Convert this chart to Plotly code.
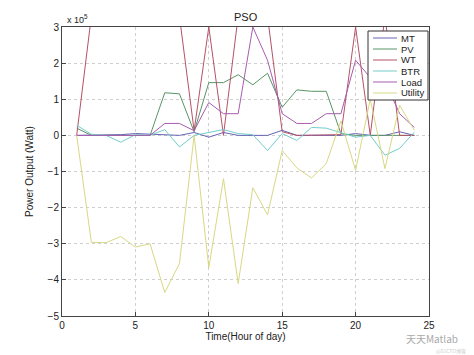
import plotly.graph_objects as go

hours = list(range(1, 25))
# values in units of 1e5 W
MT = [0, 0, 0, 0.02, 0.05, 0.03, 0, 0, 0.08, -0.05, 0.08, 0, 0, 0, 0.14, 0, 0, 0, 0, 0.05, 0, 0, 0.1, 0]
PV = [0.2, 0, 0, 0, 0, 0, 1.18, 1.15, 0.1, 1.46, 1.46, 1.68, 1.4, 1.72, 0.78, 1.26, 1.22, 1.22, 0.05, 0, 0, 0, 0, 0]
WT = [0, 3.3, 4.5, 4.5, 4.5, 4.5, 4.5, 3.3, 0.13, 3.0, 0, 3.3, 4.5, 3.3, 0.1, 0, 0, 0, 0.02, 3.0, 0, 3.3, 0, 0]
BTR = [0.28, 0.03, 0, -0.19, 0.02, 0, 0.16, -0.32, 0, 0.09, 0.16, 0.05, 0.02, -0.42, 0.05, -0.14, 0.22, 0.2, 0.08, -0.05, 0, -0.55, -0.36, 0.09]
Load = [0, 0, 0, 0, 0, 0, 0.33, 0.33, 0.13, 0.91, 0.6, 0.6, 3.0, 2.08, 0.6, 0.33, 0.33, 0.6, 0.6, 2.08, 1.6, 1.5, 0.6, 0.22]
Utility = [0, -2.96, -2.97, -2.8, -3.09, -3.0, -4.35, -3.55, 0, -3.66, -1.2, -4.1, -1.45, -2.2, -0.42, -0.9, -1.18, -0.78, 0.4, -0.97, 1.0, -0.92, 0.83, 0.14]

names = ["MT", "PV", "WT", "BTR", "Load", "Utility"]
values = [MT, PV, WT, BTR, Load, Utility]
colors = ["#6464b4", "#5a9468", "#b45268", "#74cccc", "#a85cb0", "#d8d884"]

xticks = [0, 5, 10, 15, 20, 25]
yticks = [-5, -4, -3, -2, -1, 0, 1, 2, 3]

fig = go.Figure()
for name, vals, col in zip(names, values, colors):
    fig.add_trace(go.Scatter(x=hours, y=vals, mode="lines", name=name,
                             line=dict(color=col, width=1), showlegend=False))

font = "Liberation Sans, Arial, sans-serif"
axis_common = dict(showline=True, linecolor="#444", linewidth=1, mirror=True,
                   ticks="inside", ticklen=4, tickcolor="#444",
                   showgrid=True, gridcolor="#cfcfcf", griddash="dot", gridwidth=1,
                   zeroline=False, automargin=False,
                   tickfont=dict(size=10, color="#222", family=font))
# page has an 8px body margin; compensate
fig.update_layout(
    width=466, height=347,
    paper_bgcolor="white", plot_bgcolor="white",
    margin=dict(l=54, r=45, t=19, b=39),
    xaxis=dict(range=[0, 25], tickvals=xticks, title=dict(text="Time(Hour of day)", standoff=0,
               font=dict(size=10, color="#222", family=font)), **axis_common),
    yaxis=dict(range=[-5, 3], tickvals=yticks, title=dict(text="Power Output (Watt)", standoff=12,
               font=dict(size=10, color="#222", family=font)), **axis_common),
    showlegend=False,
)
PH = 289.0
fig.add_annotation(text="PSO", xref="paper", yref="paper", x=0.5, y=1 + 10 / PH,
                   xanchor="center", yanchor="middle", showarrow=False,
                   font=dict(size=11, color="#222", family=font))
fig.add_annotation(text="x 10<sup>5</sup>", xref="paper", yref="paper", x=0.008, y=1.0,
                   xanchor="left", yanchor="bottom", showarrow=False,
                   font=dict(size=9, color="#222", family=font))

# compact legend (MATLAB style)
lx0, lx1 = (368 - 62) / 367, (428 - 62) / 367
ly0, ly1 = 1 - (100 - 27) / PH, 1 - (31 - 27) / PH
fig.add_shape(type="rect", xref="paper", yref="paper", x0=lx0, x1=lx1, y0=ly0, y1=ly1,
              line=dict(color="#333", width=1), fillcolor="white", layer="above")
for i, (name, col) in enumerate(zip(names, colors)):
    yy = 1 - (38 + 11 * i - 27) / PH
    fig.add_shape(type="line", xref="paper", yref="paper",
                  x0=(373 - 62) / 367, x1=(397 - 62) / 367, y0=yy, y1=yy,
                  line=dict(color=col, width=1), layer="above")
    fig.add_annotation(text=name, xref="paper", yref="paper", x=(399 - 62) / 367, y=yy,
                       xanchor="left", yanchor="middle", showarrow=False,
                       font=dict(size=9.5, color="#222", family=font))

fig.add_annotation(text="天天Matlab", xref="paper", yref="paper", x=(460 - 62) / 367,
                   y=1 - (338 - 27) / PH, xanchor="right", yanchor="middle", showarrow=False,
                   font=dict(size=10, color="#aaaaaa", family="Noto Sans CJK SC"))
fig.add_annotation(text="@51CTO博客", xref="paper", yref="paper", x=(468 - 62) / 367,
                   y=1 - (350.5 - 27) / PH, xanchor="right", yanchor="middle", showarrow=False,
                   font=dict(size=5, color="#cccccc", family="Noto Sans CJK SC"))
fig.write_html("out.html")
